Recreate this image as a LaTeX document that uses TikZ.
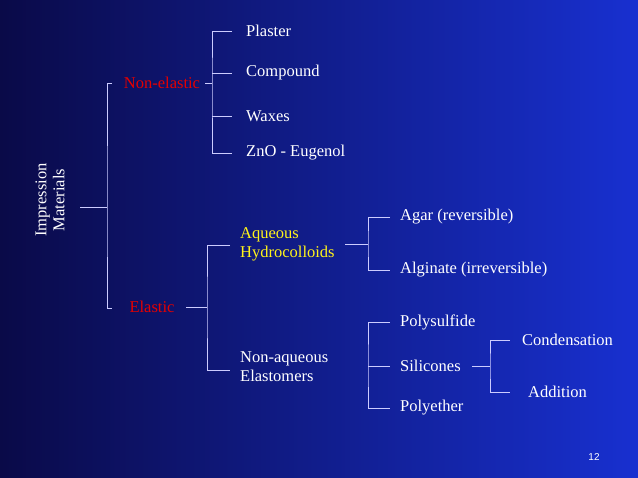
\documentclass[tikz,border=0pt]{standalone}
\usepackage{fontspec}
\setmainfont{Liberation Serif}
\setsansfont{Liberation Sans}
\begin{document}
\begin{tikzpicture}[x=1pt,y=-1pt,
  ln/.style={draw=white!80!blue, line width=0.8pt},
  lbl/.style={text=white, font=\fontsize{16.5}{19}\selectfont, inner sep=0pt},
  lft/.style={lbl, anchor=west},
  red/.style={text=red!90!black},
  yel/.style={text=yellow!90!white}]
\definecolor{bgA}{HTML}{0A0A48}
\definecolor{bgB}{HTML}{1830D0}
\shade[shading angle=110, left color=bgA, right color=bgB] (0,0) rectangle (638,478);
\useasboundingbox (0,0) rectangle (638,478);
% root
\node[lbl, rotate=90, align=center, font=\fontsize{16.5}{18}\selectfont] (root) at (50,200) {Impression\\Materials};
\coordinate (r0) at (80,207);
\coordinate (r1) at (107,207);
\draw[ln] (r0) -- (r1);
\node[lbl, red] (ne) at (162,83) {Non-elastic};
\node[lbl, red] (el) at (152,307) {Elastic};
\draw[ln] (112,83) -| (r1) |- (112,308);
% non-elastic children
\node[lft] (pl) at (246,31) {Plaster};
\node[lft] (co) at (246,73) {Compound};
\node[lft] (wa) at (246,116) {Waxes};
\node[lft] (zn) at (246,153) {ZnO - Eugenol};
\coordinate (nv) at (212,83);
\draw[ln] (205,83) -- (nv);
\draw[ln] ([xshift=-14pt]pl.west) -| (nv) |- ([xshift=-14pt]zn.west);
\draw[ln] (nv |- co) -- ([xshift=-14pt]co.west);
\draw[ln] (nv |- wa) -- ([xshift=-14pt]wa.west);
% elastic children
\node[lft, yel, align=left] (aq) at (240,244) {Aqueous\\Hydrocolloids};
\node[lft, align=left] (na) at (240,367) {Non-aqueous\\Elastomers};
\coordinate (ev) at (207,307);
\draw[ln] (186,307) -- (ev);
\draw[ln] (230,245) -| (ev) |- (230,370);
% aqueous
\node[lft] (ag) at (400,217) {Agar (reversible)};
\node[lft] (al) at (400,270) {Alginate (irreversible)};
\coordinate (av) at (368,244);
\draw[ln] (345,244) -- (av);
\draw[ln] ([xshift=-10pt]ag.west) -| (av) |- ([xshift=-10pt]al.west);
% non-aqueous
\node[lft] (ps) at (400,322) {Polysulfide};
\node[lft] (si) at (400,366) {Silicones};
\node[lft] (pe) at (400,408) {Polyether};
\coordinate (sv) at (368,366);
\draw[ln] ([xshift=-10pt]ps.west) -| (sv) |- ([xshift=-10pt]pe.west);
\draw[ln] (sv) -- ([xshift=-10pt]si.west);
% silicones
\node[lft] (cd) at (522,340) {Condensation};
\node[lft] (ad) at (528,392) {Addition};
\coordinate (cv) at (490,366);
\draw[ln] (472,366) -- (cv);
\draw[ln] (510,340) -| (cv) |- (510,392);
\node[text=white, font=\sffamily\fontsize{10}{12}\selectfont] (pg) at (594,457) {12};
\end{tikzpicture}
\end{document}
